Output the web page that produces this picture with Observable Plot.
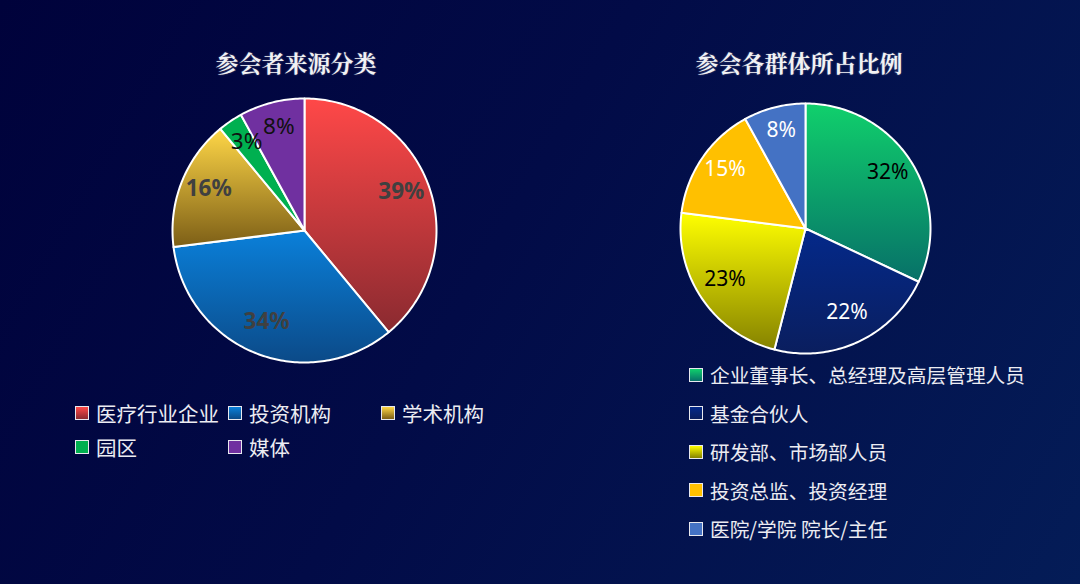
<!DOCTYPE html>
<html>
<head>
<meta charset="utf-8">
<script src="https://cdn.jsdelivr.net/npm/d3@7"></script>
<script src="https://cdn.jsdelivr.net/npm/@observablehq/plot@0.6"></script>
<style>
  html, body { margin: 0; padding: 0; }
  body {
    width: 1080px; height: 584px; overflow: hidden;
    background: linear-gradient(120deg, #00023b 0%, #020b47 45%, #041c57 100%);
    font-family: "Noto Sans CJK SC", "Noto Sans", sans-serif;
  }
  #root { position: relative; width: 1080px; height: 584px; }
  .title {
    position: absolute; top: 45px; width: 400px; text-align: center;
    color: #f2f2f4; font-size: 23px; font-weight: bold; line-height: 36px;
    font-family: "Noto Serif CJK SC", "Noto Sans CJK SC", serif;
    text-shadow: 0 0 2px rgba(255,255,255,0.35);
  }
  .chart { position: absolute; }
  .legend { position: absolute; color: #ececf2; line-height: 1; }
  .item { position: absolute; display: flex; align-items: center; white-space: nowrap; }
  .sw { width: 12px; height: 12px; border: 1.5px solid #e8e8ee; margin-right: 7px; flex: none; }
</style>
</head>
<body>
<div id="root"></div>
<script>
// ---- data ----
const leftTitle = "参会者来源分类";
const leftCategories = ["医疗行业企业", "投资机构", "学术机构", "园区", "媒体"];
const leftValues = [39, 34, 16, 3, 8];

const rightTitle = "参会各群体所占比例";
const rightCategories = ["企业董事长、总经理及高层管理人员", "基金合伙人", "研发部、市场部人员", "投资总监、投资经理", "医院/学院 院长/主任"];
const rightValues = [32, 22, 23, 15, 8];

// ---- styles ----
const leftColors = [["#ff4848", "#8a2a30"], ["#0a80da", "#0b4a88"], ["#ffd747", "#7c5e16"], ["#00b050", "#00b050"], ["#7030a0", "#7030a0"]];
const rightColors = [["#10d06c", "#077068"], ["#04298a", "#0a1e5e"], ["#ffff00", "#858200"], ["#ffc000", "#ffc000"], ["#4472c4", "#4472c4"]];
const leftLabelColors = ["#404040", "#404040", "#404040", "#111111", "#111111"];
const leftLabelBold = [true, true, true, false, false];
const rightLabelColors = ["#000000", "#ffffff", "#000000", "#ffffff", "#ffffff"];
const rightLabelBold = [false, false, false, false, false];

const root = document.getElementById("root");

function wedges(values) {
  const arcs = d3.pie().sort(null).value(d => d)(values);
  return arcs.map((p, i) => {
    const pts = [{x: 0, y: 0}];
    const n = Math.max(2, Math.ceil((p.endAngle - p.startAngle) / (Math.PI / 180)));
    for (let k = 0; k <= n; k++) {
      const a = p.startAngle + (p.endAngle - p.startAngle) * k / n;
      pts.push({x: Math.sin(a), y: Math.cos(a)});
    }
    pts.push({x: 0, y: 0});
    return {i, pts, mid: (p.startAngle + p.endAngle) / 2};
  });
}

function pieChart({values, colors, labelColors, labelBold, labelR, fontSize, size, prefix}) {
  const w = wedges(values);
  const labels = w.map(s => ({
    x: labelR * Math.sin(s.mid), y: labelR * Math.cos(s.mid),
    text: values[s.i] + "%", color: labelColors[s.i], bold: labelBold[s.i]
  }));
  const marks = w.map(s => Plot.line(s.pts, {
    x: "x", y: "y", fill: `url(#${prefix}${s.i})`,
    stroke: "#ffffff", strokeWidth: 2, strokeLinejoin: "round", curve: "linear"
  }));
  const textOpts = {x: "x", y: "y", text: "text", fill: "color", fontSize, dy: -4,
    fontFamily: "'Noto Sans', 'Open Sans', sans-serif", textAnchor: "middle"};
  marks.push(Plot.text(labels.filter(d => d.bold), {...textOpts, fontWeight: "bold"}));
  marks.push(Plot.text(labels.filter(d => !d.bold), {...textOpts, fontWeight: "normal"}));
  const svg = Plot.plot({
    width: size, height: size, margin: 0,
    x: {domain: [-1, 1], axis: null, inset: 4},
    y: {domain: [-1, 1], axis: null, inset: 4},
    color: {type: "identity"},
    style: {background: "transparent", overflow: "visible"},
    marks
  });
  const defs = d3.select(svg).insert("defs", ":first-child");
  colors.forEach(([c0, c1], i) => {
    const g = defs.append("linearGradient").attr("id", prefix + i)
      .attr("x1", 0).attr("y1", 0).attr("x2", 0).attr("y2", 1);
    g.append("stop").attr("offset", "0%").attr("stop-color", c0);
    g.append("stop").attr("offset", "100%").attr("stop-color", c1);
  });
  return svg;
}

function addTitle(text, cx) {
  const t = document.createElement("div");
  t.className = "title"; t.textContent = text;
  t.style.left = (cx - 200) + "px";
  root.appendChild(t);
}

function place(el, left, top) {
  const d = document.createElement("div");
  d.className = "chart"; d.style.left = left + "px"; d.style.top = top + "px";
  d.appendChild(el); root.appendChild(d);
}

// left pie: center (304,230), r=132
addTitle(leftTitle, 296);
place(pieChart({values: leftValues, colors: leftColors, labelColors: leftLabelColors, labelBold: leftLabelBold,
  labelR: 0.78, fontSize: 22.5, size: 272, prefix: "gl"}), 304 - 136, 230 - 136);

// right pie: center (805,228), r=125
addTitle(rightTitle, 799);
place(pieChart({values: rightValues, colors: rightColors, labelColors: rightLabelColors, labelBold: rightLabelBold,
  labelR: 0.78, fontSize: 21, size: 258, prefix: "gr"}), 805 - 129, 228 - 129);

// legends
function swatch(c) {
  const s = document.createElement("span");
  s.className = "sw";
  s.style.background = `linear-gradient(to bottom, ${c[0]}, ${c[1]})`;
  return s;
}
const legL = document.createElement("div");
legL.className = "legend"; legL.style.fontSize = "20.5px"; root.appendChild(legL);
leftCategories.forEach((name, i) => {
  const it = document.createElement("div");
  it.className = "item";
  it.style.left = (75 + (i % 3) * 153) + "px";
  it.style.top = (403 + Math.floor(i / 3) * 34) + "px";
  it.appendChild(swatch(leftColors[i]));
  const t = document.createElement("span"); t.textContent = name; it.appendChild(t);
  legL.appendChild(it);
});
const legR = document.createElement("div");
legR.className = "legend"; legR.style.fontSize = "19.7px"; root.appendChild(legR);
rightCategories.forEach((name, i) => {
  const it = document.createElement("div");
  it.className = "item";
  it.style.left = "689px";
  it.style.top = (365 + i * 38.5) + "px";
  it.appendChild(swatch(rightColors[i]));
  const t = document.createElement("span"); t.textContent = name; it.appendChild(t);
  legR.appendChild(it);
});
</script>
</body>
</html>
